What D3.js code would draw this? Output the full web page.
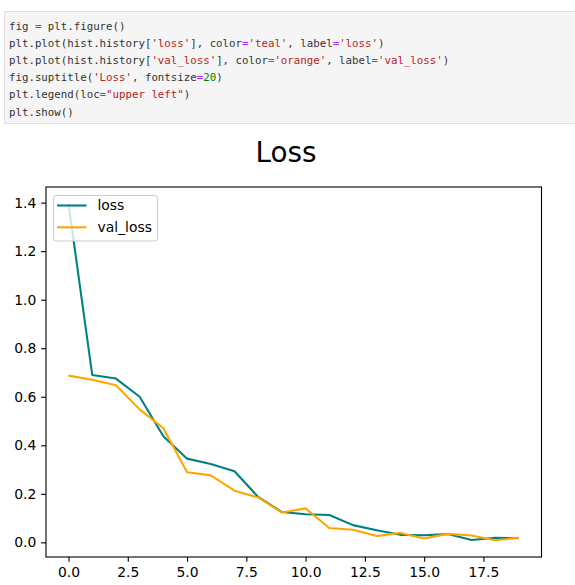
<!DOCTYPE html>
<html>
<head>
<meta charset="utf-8">
<script src="https://cdn.jsdelivr.net/npm/d3@7"></script>
<style>
  body { margin: 0; background: #fff; }
  svg { display: block; }
</style>
</head>
<body>
<div id="chart"></div>
<script>
// values
const epochs = d3.range(20);
const loss = [1.395, 0.690, 0.675, 0.600, 0.437, 0.345, 0.323, 0.293, 0.187, 0.125,
              0.116, 0.113, 0.071, 0.050, 0.031, 0.029, 0.034, 0.010, 0.019, 0.017];
const valLoss = [0.687, 0.670, 0.647, 0.548, 0.470, 0.289, 0.276, 0.213, 0.185, 0.123,
                 0.140, 0.059, 0.052, 0.026, 0.039, 0.016, 0.035, 0.028, 0.009, 0.019];
const xTicks = [0, 2.5, 5, 7.5, 10, 12.5, 15, 17.5];
const yTicks = [0, 0.2, 0.4, 0.6, 0.8, 1.0, 1.2, 1.4];
const legendItems = [
    { name: "loss", color: "teal" },
    { name: "val_loss", color: "orange" }
];
// code cell text, token + kind
const codeLines = [
    [["fig ", "n"], ["=", "o"], [" plt.figure()", "n"]],
    [["plt.plot(hist.history[", "n"], ["'loss'", "s"], ["], color", "n"], ["=", "o"], ["'teal'", "s"], [", label", "n"], ["=", "o"], ["'loss'", "s"], [")", "n"]],
    [["plt.plot(hist.history[", "n"], ["'val_loss'", "s"], ["], color", "n"], ["=", "o"], ["'orange'", "s"], [", label", "n"], ["=", "o"], ["'val_loss'", "s"], [")", "n"]],
    [["fig.suptitle(", "n"], ["'Loss'", "s"], [", fontsize", "n"], ["=", "o"], ["20", "d"], [")", "n"]],
    [["plt.legend(loc", "n"], ["=", "o"], ["\"upper left\"", "s"], [")", "n"]],
    [["plt.show()", "n"]]
];
const tokenColor = { n: "#333333", o: "#aa22ff", s: "#ba2121", d: "#008000" };

const W = 575, H = 585;
const svg = d3.select("#chart").append("svg")
    .attr("width", W)
    .attr("height", H);

// code cell
svg.append("rect")
    .attr("x", 4.5).attr("y", 11.5)
    .attr("width", 620).attr("height", 112)
    .attr("fill", "#f5f5f5")
    .attr("stroke", "#e0e0e0");

svg.selectAll(".code-line")
    .data(codeLines)
    .join("text")
    .attr("class", "code-line")
    .attr("x", 9)
    .attr("y", (d, i) => 30 + i * 17.1)
    .attr("font-family", "DejaVu Sans Mono, monospace")
    .attr("font-size", "10.75px")
    .attr("xml:space", "preserve")
    .style("white-space", "pre")
    .selectAll("tspan")
    .data(d => d)
    .join("tspan")
    .attr("fill", d => tokenColor[d[1]])
    .text(d => d[0]);

// figure title
svg.append("text")
    .attr("x", 286)
    .attr("y", 162)
    .attr("text-anchor", "middle")
    .attr("font-family", "DejaVu Sans, sans-serif")
    .attr("font-size", "27.8px")
    .text("Loss");

// axes
const box = { left: 46, top: 187, right: 541.5, bottom: 557 };
const x = d3.scaleLinear()
    .domain([-0.95, 19.95])
    .range([box.left, box.right]);

const yMin = d3.min(loss.concat(valLoss));
const yMax = d3.max(loss.concat(valLoss));
const pad = (yMax - yMin) * 0.05;
const y = d3.scaleLinear()
    .domain([yMin - pad, yMax + pad])
    .range([box.bottom, box.top]);

const tickLen = 4.86;

const xAxis = svg.append("g")
    .attr("transform", `translate(0,${box.bottom})`)
    .call(d3.axisBottom(x).tickValues(xTicks).tickFormat(d3.format(".1f"))
        .tickSize(tickLen).tickPadding(4.86));

const yAxis = svg.append("g")
    .attr("transform", `translate(${box.left},0)`)
    .call(d3.axisLeft(y).tickValues(yTicks).tickFormat(d3.format(".1f"))
        .tickSize(tickLen).tickPadding(4.86));

[xAxis, yAxis].forEach(g => {
    g.select(".domain").remove();
    g.selectAll("line").attr("stroke", "#000").attr("stroke-width", 1.1);
    g.selectAll("text")
        .attr("fill", "#000")
        .attr("font-family", "DejaVu Sans, sans-serif")
        .attr("font-size", "13.9px");
});

// lines
const line = d3.line()
    .x((d, i) => x(epochs[i]))
    .y(d => y(d));

svg.append("path")
    .datum(loss)
    .attr("fill", "none")
    .attr("stroke", "teal")
    .attr("stroke-width", 2.08)
    .attr("stroke-linejoin", "round")
    .attr("d", line);

svg.append("path")
    .datum(valLoss)
    .attr("fill", "none")
    .attr("stroke", "orange")
    .attr("stroke-width", 2.08)
    .attr("stroke-linejoin", "round")
    .attr("d", line);

// frame
svg.append("rect")
    .attr("x", box.left).attr("y", box.top)
    .attr("width", box.right - box.left)
    .attr("height", box.bottom - box.top)
    .attr("fill", "none")
    .attr("stroke", "#000")
    .attr("stroke-width", 1.1);

// legend
const legend = svg.append("g")
    .attr("transform", "translate(53.5,195.5)");

legend.append("rect")
    .attr("width", 104)
    .attr("height", 45.5)
    .attr("rx", 2.8)
    .attr("fill", "#fff")
    .attr("fill-opacity", 0.8)
    .attr("stroke", "#cccccc")
    .attr("stroke-width", 1);

const rows = legend.selectAll(".legend")
    .data(legendItems)
    .join("g")
    .attr("class", "legend")
    .attr("transform", (d, i) => `translate(0,${10 + i * 21.8})`);

rows.append("line")
    .attr("x1", 3.5).attr("x2", 33)
    .attr("stroke", d => d.color)
    .attr("stroke-width", 2.08);

rows.append("text")
    .attr("x", 44)
    .attr("dy", "0.35em")
    .attr("font-family", "DejaVu Sans, sans-serif")
    .attr("font-size", "13.9px")
    .attr("fill", "#000")
    .text(d => d.name);
</script>
</body>
</html>
